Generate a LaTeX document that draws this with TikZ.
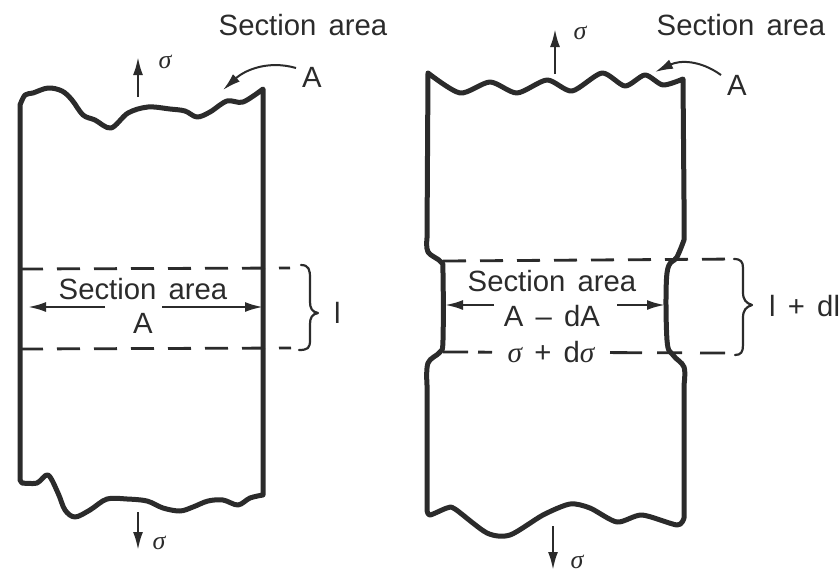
\documentclass[tikz,border=0pt]{standalone}
\usepackage{fontspec}
\setmainfont[WordSpace=1.5]{Liberation Sans}
\newfontfamily\sigfont{Liberation Serif}
\usetikzlibrary{arrows.meta}
\definecolor{ink}{HTML}{2B2B2B}
\tikzset{
  outline/.style={draw=ink,line width=5pt,line join=round,line cap=round},
  dashline/.style={draw=ink,line width=2.8pt,dash pattern=on 23pt off 14pt},
  bracket/.style={draw=ink,line width=2.2pt,line cap=round,line join=round},
  force/.style={draw=ink,line width=2.4pt,-{Latex[length=18pt,width=10pt]}},
  label/.style={text=ink,inner sep=0pt,font=\fontsize{29.3}{31}\selectfont},
  sig/.style={text=ink,inner sep=0pt,font=\sigfont\itshape\fontsize{26}{28}\selectfont}
}
\begin{document}
\begin{tikzpicture}[x=1pt,y=-1pt]
\useasboundingbox (0,0) rectangle (839,581);
% left specimen
\draw[outline] plot[smooth,tension=0.55] coordinates {(20,105) (25,95) (33,93) (48,88) (62,91) (72,100) (83,115) (95,120) (111,128) (128,113) (148,107) (170,109) (185,111) (197,117) (210,112) (227,101) (243,102) (263,89)}
  -- (263,495)
  -- plot[smooth,tension=0.55] coordinates {(263,495) (250,498) (238,505) (223,500) (208,501) (193,507) (180,511) (163,508) (147,501) (127,499) (107,499) (90,510) (75,517) (65,510) (58,493) (48,475) (37,483) (22,483)}
  -- (20,480) -- (20,105);
% right specimen
\draw[outline] plot[smooth,tension=0.45] coordinates {(428,73) (460,93) (490,82) (517,93) (547,80) (572,91) (602,73) (625,86) (645,75) (663,85) (683,79)}
  -- (684,200)
  -- plot[smooth,tension=0.6] coordinates {(684,240) (677,257) (667,273) (667,340) (673,355) (684,367) (684,385)}
  -- (684,518)
  -- plot[smooth,tension=0.45] coordinates {(684,518) (677,525) (642,515) (617,522) (590,508) (570,504) (543,515) (510,535) (487,533) (455,509) (447,508) (430,515) (427,510)}
  -- (427,390)
  -- plot[smooth,tension=0.6] coordinates {(427,385) (428,363) (440,352) (443,340) (443,273) (441,262) (428,252) (427,238)}
  -- (428,73);
% dashed section lines
\coordinate (la) at (20,269); \coordinate (lb) at (290,268);
\coordinate (lc) at (20,349); \coordinate (ld) at (291,348);
\coordinate (ra) at (443,261); \coordinate (rb) at (738,259);
\coordinate (rc) at (443,352); \coordinate (rd) at (728,353);
\draw[dashline] (la) -- (lb);
\draw[dashline] (lc) -- (ld);
\draw[dashline] (ra) -- (rb);
\draw[dashline,dash pattern=on 25pt off 10pt on 14pt off 118pt on 32pt off 15pt on 25pt off 18pt on 25pt off 14pt] (rc) -- (rd);
% braces
\draw[bracket] (301,265) .. controls (309,265) and (310,270) .. (310,278) -- (310,302) .. controls (310,308) and (312,312) .. (318,313) .. controls (312,314) and (310,318) .. (310,324) -- (310,340) .. controls (310,348) and (308,350) .. (299,350);
\draw[bracket] (734,259) .. controls (741,259) and (743,262) .. (743,268) -- (743,292) .. controls (743,300) and (746,303) .. (752,305) .. controls (746,307) and (743,310) .. (743,318) -- (743,345) .. controls (743,352) and (741,355) .. (735,355);
% section arrows
\coordinate (lw) at (20,307); \coordinate (le) at (263,307);
\coordinate (lwi) at (105,307); \coordinate (lei) at (162,307);
\draw[force] (lwi) -- (28,307);
\draw[force] (lei) -- (le);
\coordinate (rwi) at (494,305); \coordinate (rei) at (617,305);
\draw[force] (rwi) -- (445,305);
\draw[force] (rei) -- (665,305);
% stress arrows
\coordinate (s1a) at (138,97); \coordinate (s1b) at (138,57);
\coordinate (s2a) at (138,512); \coordinate (s2b) at (138,550);
\coordinate (s3a) at (555,74); \coordinate (s3b) at (555,29);
\coordinate (s4a) at (553,526); \coordinate (s4b) at (553,570);
\draw[force] (s1a) -- (s1b);
\draw[force] (s2a) -- (s2b);
\draw[force] (s3a) -- (s3b);
\draw[force] (s4a) -- (s4b);
% labels
\node[label] (t1) at (303,25) {Section area};
\node[label] (t2) at (741,25) {Section area};
\node[label] (t3) at (143,289) {Section area};
\node[label] (t4) at (552,281) {Section area};
\node[label] (a1) at (312,77) {A};
\node[label] (a2) at (737,85) {A};
\node[label] (a3) at (143,323) {A};
\node[label] (a4) at (552,316) {A – dA};
\node[label,anchor=west] (l1) at (334,313) {l};
\node[label,anchor=west] (l2) at (769,306) {l + dl};
\node[sig] (g1) at (165,62) {σ};
\node[sig] (g2) at (580,33) {σ};
\node[sig] (g3) at (159,543) {σ};
\node[sig] (g4) at (577,562) {σ};
\node[label] (g5) at (551,352) {{\sigfont\itshape σ} + d{\sigfont\itshape σ}};
% leaders to the section area A
\draw[force,line width=2pt] (a1.west) ++(-6,-9) .. controls (268,60) and (245,70) .. (223,90);
\draw[force,line width=2pt] (a2.west) ++(-6,-10) .. controls (700,60) and (680,60) .. (655,72);
\end{tikzpicture}
\end{document}
